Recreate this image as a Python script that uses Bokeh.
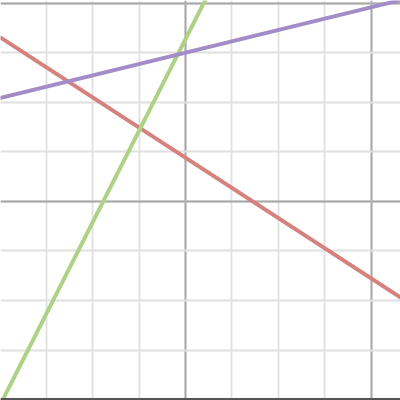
from bokeh.plotting import figure
from bokeh.models import Grid, SingleIntervalTicker, Span, Range1d
from bokeh.embed import file_html
from bokeh.resources import INLINE

# line end points (x at the left and right end)
x_ends = [0.0, 9.0]
red_y = [7.32, 1.84]
green_y = [-0.12, 16.53]
purple_y = [6.09, 8.15]

p = figure(
    width=400,
    height=400,
    x_axis_type=None,
    y_axis_type=None,
    x_range=Range1d(0.013, 8.634),
    y_range=Range1d(-0.02, 8.06),
    toolbar_location=None,
    output_backend="svg",
    min_border=0,
)
p.outline_line_color = None
p.background_fill_color = "white"
p.border_fill_color = "white"

# grid: major every 4, minor every 1
for dim in (0, 1):
    ticker = SingleIntervalTicker(interval=4, num_minor_ticks=4)
    p.add_layout(Grid(
        dimension=dim,
        ticker=ticker,
        grid_line_color="#a8a8a8",
        grid_line_width=2,
        minor_grid_line_color="#e0e0e0",
        minor_grid_line_width=1.8,
    ))

# x axis line at the bottom
p.add_layout(Span(location=0, dimension="width", line_color="#555555", line_width=3))

p.line(x_ends, red_y, line_color="#d5817e", line_width=4)
p.line(x_ends, green_y, line_color="#afd186", line_width=4)
p.line(x_ends, purple_y, line_color="#a28dc8", line_width=4)

open("out.html", "w").write(file_html(p, INLINE))
